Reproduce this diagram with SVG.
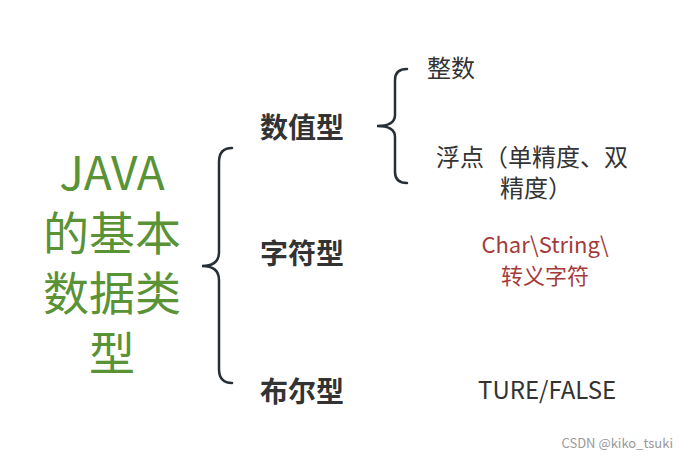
<svg xmlns="http://www.w3.org/2000/svg" width="681" height="459" viewBox="0 0 681 459">
<style>
.b{fill:none;stroke:#262e36;stroke-width:2.5;stroke-linecap:round}
.t{font-family:"Noto Sans CJK SC","Noto Sans",sans-serif;}
.h{font-size:28px;font-weight:bold;fill:#333}
.n{font-size:24px;fill:#333}
.g{font-size:46px;fill:#5a9236;text-anchor:middle}
.r{font-size:22px;fill:#a53a3a;text-anchor:middle}
</style>
<rect width="681" height="459" fill="#fff"/>
<g id="root"><text class="t g" x="112" y="190">JAVA</text><text class="t g" x="112" y="250">的基本</text><text class="t g" x="112" y="310">数据类</text><text class="t g" x="112" y="370">型</text></g>
<g id="connectors">
<path class="b" d="M232,148 Q219,148 219,162 L219,252 Q219,266 202,266 Q219,266 219,280 L219,369 Q219,383 232,383"/>
<path class="b" d="M407,69 Q395,69 395,80 L395,115 Q395,126 377,126 Q395,126 395,137 L395,172 Q395,183 407,183"/>
</g>
<g id="num"><text class="t h" x="260" y="138">数值型</text></g>
<g id="char"><text class="t h" x="260" y="264">字符型</text></g>
<g id="bool"><text class="t h" x="260" y="402">布尔型</text></g>
<g id="int"><text class="t n" x="427" y="77">整数</text></g>
<g id="float"><text class="t n" x="436" y="166">浮点（单精度、双</text><text class="t n" x="500" y="197">精度）</text></g>
<g id="str"><text class="t r" x="545" y="253">Char\String\</text><text class="t r" x="545" y="284">转义字符</text></g>
<g id="tf"><text class="t n" x="478" y="399">TURE/FALSE</text></g>
<text class="t" x="673" y="448" text-anchor="end" font-size="13" fill="#999">CSDN @kiko_tsuki</text>
</svg>
